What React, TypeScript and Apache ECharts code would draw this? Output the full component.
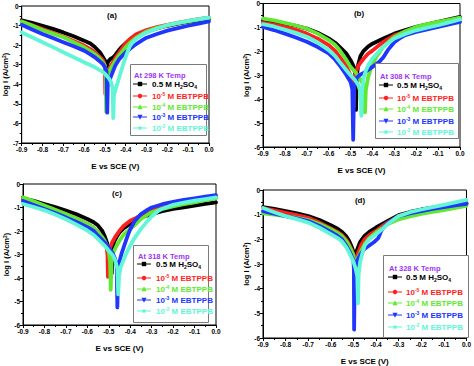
import React, { useEffect, useRef } from "react";
import * as echarts from "echarts";

type Pt = [number, number];

// ---------- tick labels / categories ----------
const PANEL_LABELS = ["(a)", "(b)", "(c)", "(d)"];
const TEMPS = ["298", "308", "318", "328"];
const Y_MINS = [-7, -6, -6, -6];
const SERIES_NAMES = ["0.5 M H2SO4", "1e-5 M EBTPPB", "1e-4 M EBTPPB", "1e-3 M EBTPPB", "1e-2 M EBTPPB"];
const EXPONENTS = ["-5", "-4", "-3", "-2"];

// ---------- panel (a) 298 K ----------
const a_blank: Pt[] = [[-0.9,-0.73],[-0.85,-0.86],[-0.8,-1.01],[-0.75,-1.17],[-0.7,-1.35],[-0.65,-1.55],[-0.6,-1.77],[-0.57,-1.92],[-0.55,-2.08],[-0.53,-2.3],[-0.52,-2.43],[-0.51,-2.6],[-0.5,-2.78],[-0.495,-2.95],[-0.492,-3.3],[-0.489,-3.0],[-0.485,-2.85],[-0.475,-2.72],[-0.46,-2.62],[-0.45,-2.5],[-0.43,-2.22],[-0.42,-2.1],[-0.4,-1.9],[-0.38,-1.72],[-0.35,-1.52],[-0.3,-1.3],[-0.25,-1.14],[-0.2,-1.01],[-0.15,-0.9],[-0.1,-0.81],[-0.05,-0.74],[0,-0.67]];
const a_1e5: Pt[] = [[-0.9,-0.79],[-0.85,-0.98],[-0.8,-1.18],[-0.75,-1.37],[-0.7,-1.57],[-0.65,-1.79],[-0.6,-2.02],[-0.57,-2.2],[-0.55,-2.36],[-0.53,-2.55],[-0.52,-2.65],[-0.51,-2.76],[-0.503,-2.95],[-0.5,-3.2],[-0.498,-4.5],[-0.495,-3.4],[-0.49,-3.4],[-0.475,-3.12],[-0.46,-2.85],[-0.45,-2.65],[-0.43,-2.36],[-0.4,-1.9],[-0.38,-1.69],[-0.35,-1.45],[-0.3,-1.23],[-0.25,-1.08],[-0.2,-0.96],[-0.15,-0.86],[-0.1,-0.76],[-0.05,-0.67],[0,-0.59]];
const a_1e4: Pt[] = [[-0.9,-0.79],[-0.85,-1.0],[-0.8,-1.23],[-0.75,-1.41],[-0.7,-1.6],[-0.65,-1.85],[-0.6,-2.11],[-0.57,-2.3],[-0.55,-2.45],[-0.53,-2.63],[-0.52,-2.75],[-0.51,-2.88],[-0.5,-3.04],[-0.496,-3.4],[-0.494,-5.4],[-0.491,-3.7],[-0.485,-3.45],[-0.47,-3.15],[-0.45,-2.8],[-0.43,-2.5],[-0.4,-2.1],[-0.38,-1.88],[-0.35,-1.62],[-0.3,-1.3],[-0.25,-1.12],[-0.2,-0.99],[-0.15,-0.88],[-0.1,-0.78],[-0.05,-0.69],[0,-0.61]];
const a_1e3: Pt[] = [[-0.9,-0.96],[-0.85,-1.2],[-0.8,-1.43],[-0.75,-1.64],[-0.7,-1.85],[-0.65,-2.06],[-0.6,-2.28],[-0.57,-2.47],[-0.55,-2.61],[-0.53,-2.78],[-0.51,-2.97],[-0.5,-3.12],[-0.492,-3.35],[-0.489,-5.45],[-0.486,-3.9],[-0.475,-3.71],[-0.46,-3.3],[-0.45,-3.04],[-0.43,-2.7],[-0.4,-2.36],[-0.36,-2.02],[-0.32,-1.74],[-0.3,-1.62],[-0.25,-1.43],[-0.2,-1.26],[-0.15,-1.13],[-0.1,-1.01],[-0.05,-0.9],[0,-0.79]];
const a_1e2: Pt[] = [[-0.9,-1.35],[-0.85,-1.6],[-0.8,-1.85],[-0.75,-2.1],[-0.7,-2.36],[-0.65,-2.62],[-0.6,-2.87],[-0.55,-3.12],[-0.52,-3.3],[-0.5,-3.46],[-0.48,-3.71],[-0.47,-3.9],[-0.463,-4.2],[-0.46,-5.73],[-0.457,-4.6],[-0.45,-4.3],[-0.44,-3.95],[-0.43,-3.6],[-0.42,-3.25],[-0.41,-2.9],[-0.4,-2.6],[-0.39,-2.3],[-0.38,-2.05],[-0.37,-1.9],[-0.35,-1.68],[-0.32,-1.47],[-0.3,-1.36],[-0.25,-1.15],[-0.2,-0.98],[-0.15,-0.86],[-0.1,-0.76],[-0.05,-0.67],[0,-0.59]];

// ---------- panel (b) 308 K ----------
const b_blank: Pt[] = [[-0.9,-0.7],[-0.85,-0.76],[-0.8,-0.84],[-0.75,-0.93],[-0.7,-1.05],[-0.65,-1.22],[-0.6,-1.46],[-0.57,-1.64],[-0.55,-1.81],[-0.52,-2.08],[-0.5,-2.37],[-0.485,-2.65],[-0.478,-3.0],[-0.475,-4.45],[-0.472,-3.1],[-0.465,-2.55],[-0.455,-2.2],[-0.44,-1.98],[-0.42,-1.8],[-0.4,-1.68],[-0.35,-1.46],[-0.3,-1.26],[-0.25,-1.11],[-0.2,-0.98],[-0.15,-0.87],[-0.1,-0.77],[-0.05,-0.66],[0,-0.56]];
const b_1e5: Pt[] = [[-0.9,-0.81],[-0.85,-0.88],[-0.8,-0.98],[-0.75,-1.1],[-0.7,-1.26],[-0.65,-1.47],[-0.6,-1.74],[-0.57,-1.98],[-0.55,-2.23],[-0.52,-2.6],[-0.5,-3.0],[-0.49,-3.3],[-0.486,-4.3],[-0.482,-3.2],[-0.475,-2.85],[-0.465,-2.62],[-0.455,-2.48],[-0.44,-2.3],[-0.42,-2.1],[-0.4,-1.97],[-0.35,-1.6],[-0.3,-1.33],[-0.25,-1.17],[-0.2,-1.05],[-0.15,-0.94],[-0.1,-0.84],[-0.05,-0.73],[0,-0.63]];
const b_1e4: Pt[] = [[-0.9,-0.63],[-0.85,-0.71],[-0.8,-0.81],[-0.75,-0.92],[-0.7,-1.05],[-0.65,-1.26],[-0.6,-1.53],[-0.57,-1.74],[-0.55,-1.95],[-0.52,-2.35],[-0.5,-2.65],[-0.48,-2.85],[-0.46,-3.1],[-0.445,-3.35],[-0.437,-3.7],[-0.434,-4.55],[-0.43,-3.6],[-0.42,-3.1],[-0.41,-2.8],[-0.4,-2.55],[-0.38,-2.2],[-0.35,-1.81],[-0.32,-1.55],[-0.3,-1.4],[-0.25,-1.16],[-0.2,-0.98],[-0.15,-0.86],[-0.1,-0.77],[-0.05,-0.68],[0,-0.59]];
const b_1e3: Pt[] = [[-0.9,-0.98],[-0.85,-1.11],[-0.8,-1.26],[-0.75,-1.42],[-0.7,-1.6],[-0.65,-1.82],[-0.6,-2.09],[-0.57,-2.35],[-0.55,-2.58],[-0.52,-2.98],[-0.5,-3.28],[-0.492,-3.6],[-0.488,-5.7],[-0.484,-3.5],[-0.475,-3.15],[-0.46,-3.0],[-0.44,-2.9],[-0.42,-2.78],[-0.4,-2.65],[-0.37,-2.45],[-0.35,-2.25],[-0.33,-1.95],[-0.3,-1.62],[-0.27,-1.42],[-0.25,-1.32],[-0.2,-1.19],[-0.15,-1.08],[-0.1,-0.98],[-0.05,-0.87],[0,-0.77]];
const b_1e2: Pt[] = [[-0.9,-0.86],[-0.85,-0.96],[-0.8,-1.09],[-0.75,-1.23],[-0.7,-1.39],[-0.65,-1.63],[-0.6,-1.95],[-0.57,-2.2],[-0.55,-2.44],[-0.52,-2.78],[-0.5,-3.0],[-0.48,-3.2],[-0.465,-3.4],[-0.455,-3.7],[-0.451,-4.7],[-0.447,-3.6],[-0.44,-3.1],[-0.43,-2.8],[-0.42,-2.6],[-0.4,-2.3],[-0.37,-2.0],[-0.35,-1.81],[-0.3,-1.46],[-0.25,-1.27],[-0.2,-1.12],[-0.15,-1.01],[-0.1,-0.91],[-0.05,-0.79],[0,-0.67]];

// ---------- panel (c) 318 K ----------
const c_blank: Pt[] = [[-0.9,-0.61],[-0.85,-0.72],[-0.8,-0.85],[-0.75,-0.98],[-0.7,-1.13],[-0.65,-1.29],[-0.6,-1.49],[-0.57,-1.63],[-0.55,-1.77],[-0.53,-2.0],[-0.52,-2.2],[-0.51,-2.45],[-0.5,-2.77],[-0.49,-3.1],[-0.486,-3.8],[-0.482,-2.9],[-0.475,-2.45],[-0.46,-2.2],[-0.45,-2.06],[-0.43,-1.88],[-0.4,-1.7],[-0.37,-1.52],[-0.35,-1.42],[-0.3,-1.28],[-0.25,-1.16],[-0.2,-1.06],[-0.15,-0.99],[-0.1,-0.92],[-0.05,-0.85],[0,-0.78]];
const c_1e5: Pt[] = [[-0.9,-0.65],[-0.85,-0.8],[-0.8,-0.95],[-0.75,-1.11],[-0.7,-1.28],[-0.65,-1.48],[-0.6,-1.7],[-0.57,-1.87],[-0.55,-2.06],[-0.53,-2.3],[-0.52,-2.48],[-0.51,-2.7],[-0.506,-3.0],[-0.504,-3.95],[-0.5,-3.0],[-0.495,-2.75],[-0.485,-2.5],[-0.47,-2.25],[-0.45,-1.99],[-0.43,-1.78],[-0.4,-1.56],[-0.37,-1.43],[-0.35,-1.35],[-0.3,-1.13],[-0.25,-1.01],[-0.2,-0.92],[-0.15,-0.83],[-0.1,-0.75],[-0.05,-0.66],[0,-0.57]];
const c_1e4: Pt[] = [[-0.9,-0.57],[-0.85,-0.74],[-0.8,-0.92],[-0.75,-1.1],[-0.7,-1.28],[-0.65,-1.48],[-0.6,-1.7],[-0.57,-1.87],[-0.55,-2.06],[-0.53,-2.27],[-0.52,-2.41],[-0.51,-2.6],[-0.5,-2.9],[-0.494,-3.3],[-0.491,-4.5],[-0.487,-3.3],[-0.48,-2.95],[-0.465,-2.65],[-0.45,-2.41],[-0.43,-2.15],[-0.4,-1.91],[-0.37,-1.67],[-0.35,-1.49],[-0.3,-1.2],[-0.25,-1.06],[-0.2,-0.95],[-0.15,-0.86],[-0.1,-0.78],[-0.05,-0.69],[0,-0.61]];
const c_1e3: Pt[] = [[-0.9,-0.72],[-0.85,-0.89],[-0.8,-1.06],[-0.75,-1.24],[-0.7,-1.42],[-0.65,-1.62],[-0.6,-1.84],[-0.57,-2.0],[-0.55,-2.2],[-0.52,-2.48],[-0.5,-2.7],[-0.48,-2.98],[-0.47,-3.2],[-0.463,-3.5],[-0.46,-5.25],[-0.457,-3.8],[-0.45,-3.3],[-0.44,-2.95],[-0.43,-2.68],[-0.42,-2.41],[-0.41,-2.15],[-0.4,-1.93],[-0.38,-1.58],[-0.35,-1.28],[-0.32,-1.1],[-0.3,-1.0],[-0.25,-0.86],[-0.2,-0.76],[-0.15,-0.68],[-0.1,-0.61],[-0.05,-0.54],[0,-0.47]];
const c_1e2: Pt[] = [[-0.9,-0.85],[-0.85,-0.98],[-0.8,-1.12],[-0.75,-1.3],[-0.7,-1.5],[-0.65,-1.73],[-0.6,-1.98],[-0.57,-2.17],[-0.55,-2.35],[-0.52,-2.62],[-0.5,-2.84],[-0.48,-3.05],[-0.47,-3.25],[-0.46,-3.6],[-0.456,-4.7],[-0.452,-3.9],[-0.445,-3.55],[-0.43,-3.2],[-0.42,-2.98],[-0.4,-2.62],[-0.38,-2.3],[-0.35,-1.91],[-0.32,-1.58],[-0.3,-1.38],[-0.27,-1.15],[-0.25,-1.05],[-0.2,-0.89],[-0.15,-0.79],[-0.1,-0.71],[-0.05,-0.64],[0,-0.57]];

// ---------- panel (d) 328 K ----------
const d_blank: Pt[] = [[-0.9,-0.69],[-0.85,-0.77],[-0.8,-0.86],[-0.75,-0.95],[-0.7,-1.06],[-0.65,-1.22],[-0.6,-1.43],[-0.57,-1.57],[-0.55,-1.7],[-0.53,-1.9],[-0.52,-2.05],[-0.51,-2.25],[-0.5,-2.5],[-0.496,-2.9],[-0.494,-4.53],[-0.491,-2.9],[-0.485,-2.45],[-0.47,-2.1],[-0.45,-1.85],[-0.43,-1.7],[-0.4,-1.52],[-0.37,-1.36],[-0.35,-1.26],[-0.3,-1.02],[-0.25,-0.89],[-0.2,-0.79],[-0.15,-0.71],[-0.1,-0.64],[-0.05,-0.58],[0,-0.53]];
const d_1e5: Pt[] = [[-0.9,-0.73],[-0.85,-0.83],[-0.8,-0.93],[-0.75,-1.02],[-0.7,-1.13],[-0.65,-1.32],[-0.6,-1.56],[-0.57,-1.7],[-0.55,-1.83],[-0.53,-2.04],[-0.52,-2.19],[-0.51,-2.38],[-0.5,-2.6],[-0.494,-2.95],[-0.49,-3.97],[-0.487,-3.0],[-0.48,-2.55],[-0.465,-2.22],[-0.45,-1.99],[-0.43,-1.83],[-0.4,-1.66],[-0.37,-1.45],[-0.35,-1.32],[-0.3,-1.06],[-0.25,-0.95],[-0.2,-0.86],[-0.15,-0.77],[-0.1,-0.69],[-0.05,-0.62],[0,-0.56]];
const d_1e4: Pt[] = [[-0.9,-0.95],[-0.85,-1.0],[-0.8,-1.06],[-0.75,-1.13],[-0.7,-1.22],[-0.65,-1.38],[-0.6,-1.59],[-0.57,-1.75],[-0.55,-1.88],[-0.53,-2.1],[-0.52,-2.25],[-0.51,-2.43],[-0.5,-2.65],[-0.495,-3.0],[-0.492,-3.8],[-0.488,-3.1],[-0.48,-2.75],[-0.465,-2.45],[-0.45,-2.19],[-0.43,-1.95],[-0.4,-1.72],[-0.37,-1.53],[-0.35,-1.39],[-0.3,-1.19],[-0.25,-1.07],[-0.2,-0.97],[-0.15,-0.89],[-0.1,-0.82],[-0.05,-0.73],[0,-0.64]];
const d_1e3: Pt[] = [[-0.9,-0.86],[-0.85,-0.96],[-0.8,-1.06],[-0.75,-1.15],[-0.7,-1.26],[-0.65,-1.46],[-0.6,-1.7],[-0.57,-1.86],[-0.55,-2.01],[-0.53,-2.27],[-0.52,-2.45],[-0.51,-2.63],[-0.5,-2.85],[-0.498,-3.2],[-0.497,-5.66],[-0.494,-3.3],[-0.485,-2.9],[-0.47,-2.62],[-0.45,-2.38],[-0.43,-2.25],[-0.41,-2.12],[-0.39,-1.95],[-0.38,-1.72],[-0.37,-1.55],[-0.35,-1.35],[-0.3,-1.06],[-0.25,-0.95],[-0.2,-0.86],[-0.15,-0.77],[-0.1,-0.69],[-0.05,-0.62],[0,-0.56]];
const d_1e2: Pt[] = [[-0.9,-0.73],[-0.85,-0.9],[-0.8,-1.06],[-0.75,-1.18],[-0.7,-1.32],[-0.65,-1.53],[-0.6,-1.79],[-0.57,-1.95],[-0.55,-2.09],[-0.53,-2.35],[-0.52,-2.52],[-0.5,-2.9],[-0.49,-3.2],[-0.483,-3.5],[-0.48,-4.6],[-0.477,-3.4],[-0.47,-2.9],[-0.46,-2.55],[-0.45,-2.25],[-0.43,-2.0],[-0.4,-1.79],[-0.37,-1.57],[-0.35,-1.39],[-0.3,-1.06],[-0.25,-0.9],[-0.2,-0.79],[-0.15,-0.69],[-0.1,-0.6],[-0.05,-0.5],[0,-0.4]];

const CURVES: Pt[][][] = [
  [a_blank, a_1e5, a_1e4, a_1e3, a_1e2],
  [b_blank, b_1e5, b_1e4, b_1e3, b_1e2],
  [c_blank, c_1e5, c_1e4, c_1e3, c_1e2],
  [d_blank, d_1e5, d_1e4, d_1e3, d_1e2],
];

// ---------- layout & style ----------
const COLORS = ["#000000", "#ff1f1f", "#62e832", "#2036ff", "#62f5d8"];
const TITLE_COLOR = "#9b35f0";
const GRIDS = [
  { left: 21, top: 6, width: 188, height: 137, yNameGap: 9 },
  { left: 263, top: 3, width: 197, height: 144, yNameGap: 13 },
  { left: 23, top: 184, width: 193, height: 141, yNameGap: 11 },
  { left: 263, top: 190, width: 206, height: 151, yNameGap: 13 },
];
const PANEL_LABEL_POS = [[112, 15], [359, 13], [117, 193], [360, 200]];
const LEGENDS = [
  { box: [130, 64, 76, 71], titleX: 134, titleY: 75, lineX: 133, textX: 152, rows: [84, 96, 107, 117, 128] },
  { box: [375, 63, 83, 75], titleX: 380, titleY: 76, lineX: 379, textX: 397, rows: [85, 98, 109, 121, 132] },
  { box: [133, 245, 75, 77], titleX: 138, titleY: 256, lineX: 137, textX: 156, rows: [264, 278, 289, 300, 311] },
  { box: [383, 255, 85, 82], titleX: 389, titleY: 268, lineX: 388, textX: 406, rows: [277, 292, 303, 315, 327] },
];

const FONT = "Liberation Sans, Arial, sans-serif";

function marker(kind: number, cx: number, cy: number, color: string): any {
  const s = 2.2;
  if (kind === 0) return { type: "rect", shape: { x: cx - s, y: cy - s, width: 2 * s, height: 2 * s }, style: { fill: color }, z: 102 };
  if (kind === 1) return { type: "circle", shape: { cx, cy, r: s }, style: { fill: color }, z: 102 };
  if (kind === 2) return { type: "polygon", shape: { points: [[cx, cy - s - 0.5], [cx + s + 0.3, cy + s], [cx - s - 0.3, cy + s]] }, style: { fill: color }, z: 102 };
  if (kind === 3) return { type: "polygon", shape: { points: [[cx, cy + s + 0.5], [cx + s + 0.3, cy - s], [cx - s - 0.3, cy - s]] }, style: { fill: color }, z: 102 };
  const pts: number[][] = [];
  for (let k = 0; k < 10; k++) {
    const r = k % 2 === 0 ? 2.8 : 1.2;
    const a = -Math.PI / 2 + (k * Math.PI) / 5;
    pts.push([cx + r * Math.cos(a), cy + r * Math.sin(a)]);
  }
  return { type: "polygon", shape: { points: pts }, style: { fill: color }, z: 102 };
}

function buildGraphics(): any[] {
  const els: any[] = [];
  PANEL_LABELS.forEach((lab, i) => {
    const [x, y] = PANEL_LABEL_POS[i];
    els.push({ type: "text", x, y, z: 100, style: { text: lab, font: `bold 8px ${FONT}`, fill: "#000", align: "center", verticalAlign: "middle" } });
    const L = LEGENDS[i];
    const [bx, by, bw, bh] = L.box;
    els.push({ type: "rect", z: 100, shape: { x: bx + 0.5, y: by + 0.5, width: bw, height: bh }, style: { fill: "#ffffff", stroke: "#7a7a7a", lineWidth: 1 } });
    els.push({ type: "text", x: L.titleX, y: L.titleY, z: 103, style: { text: `At ${TEMPS[i]} K Temp`, font: `bold 7.5px ${FONT}`, fill: TITLE_COLOR, verticalAlign: "middle" } });
    L.rows.forEach((ry, j) => {
      const col = COLORS[j];
      els.push({ type: "line", z: 101, shape: { x1: L.lineX, y1: ry, x2: L.lineX + 14, y2: ry }, style: { stroke: col, lineWidth: 1 } });
      els.push(marker(j, L.lineX + 7, ry, col));
      const text = j === 0 ? "0.5 M H{sub|2}SO{sub|4}" : `10{sup|${EXPONENTS[j - 1]}} M EBTPPB`;
      els.push({
        type: "text", x: L.textX, y: ry, z: 103,
        style: {
          text, font: `bold 8px ${FONT}`, fill: col, verticalAlign: "middle", lineHeight: 10,
          rich: {
            sup: { fontSize: 5, fontWeight: "bold", fontFamily: FONT, fill: col, verticalAlign: "top", lineHeight: 10, padding: [0, 0, 4, 0] },
            sub: { fontSize: 5, fontWeight: "bold", fontFamily: FONT, fill: col, verticalAlign: "bottom", lineHeight: 10, padding: [4, 0, 0, 0] },
          },
        },
      });
    });
  });
  return els;
}

function buildOption(): any {
  const grid = GRIDS.map((g) => ({ left: g.left, top: g.top, width: g.width, height: g.height, show: true, borderColor: "#000", borderWidth: 1, backgroundColor: "transparent", containLabel: false }));
  const xAxis = GRIDS.map((_, i) => ({
    type: "value", gridIndex: i, min: -0.9, max: 0, interval: 0.1,
    name: "E vs SCE (V)", nameLocation: "middle", nameGap: 19,
    nameTextStyle: { fontFamily: FONT, fontWeight: "bold", fontSize: 8, color: "#000" },
    axisLine: { show: true, onZero: false, lineStyle: { color: "#000", width: 1 } },
    axisTick: { show: true, inside: false, length: 3, lineStyle: { color: "#000" } },
    minorTick: { show: true, splitNumber: 2, length: 2, lineStyle: { color: "#000" } },
    splitLine: { show: false }, minorSplitLine: { show: false },
    axisLabel: {
      fontFamily: FONT, fontWeight: "bold", fontSize: 6.5, color: "#000", margin: 3, showMinLabel: true, showMaxLabel: true,
      formatter: (v: number) => (Math.abs(v) < 1e-9 ? 0 : v).toFixed(1),
    },
  }));
  const yAxis = GRIDS.map((g, i) => ({
    type: "value", gridIndex: i, min: Y_MINS[i], max: 0, interval: 1,
    name: "log I (A/cm{sup|2})", nameLocation: "middle", nameGap: g.yNameGap, nameRotate: 90,
    nameTextStyle: {
      fontFamily: FONT, fontWeight: "bold", fontSize: 7.5, color: "#000",
      rich: { sup: { fontSize: 5, fontWeight: "bold", fontFamily: FONT, color: "#000", verticalAlign: "top", padding: [0, 0, 3, 0] } },
    },
    axisLine: { show: true, onZero: false, lineStyle: { color: "#000", width: 1 } },
    axisTick: { show: true, inside: false, length: 3, lineStyle: { color: "#000" } },
    minorTick: { show: true, splitNumber: 2, length: 2, lineStyle: { color: "#000" } },
    splitLine: { show: false }, minorSplitLine: { show: false },
    axisLabel: {
      fontFamily: FONT, fontWeight: "bold", fontSize: 6.5, color: "#000", margin: 3, showMinLabel: true, showMaxLabel: true,
      formatter: (v: number) => String(Math.round(v)),
    },
  }));
  const series: any[] = [];
  CURVES.forEach((panel, i) => {
    panel.forEach((data, j) => {
      series.push({
        type: "line", name: `${SERIES_NAMES[j]} (${TEMPS[i]} K)`, xAxisIndex: i, yAxisIndex: i, data,
        showSymbol: false, symbol: "none", silent: true, clip: true, z: 2 + j,
        lineStyle: { color: COLORS[j], width: 3.8, join: "round", cap: "round" },
        itemStyle: { color: COLORS[j] },
      });
    });
  });
  return { animation: false, backgroundColor: "#ffffff", grid, xAxis, yAxis, series, graphic: buildGraphics() };
}

export default function App() {
  const ref = useRef<HTMLDivElement>(null);
  useEffect(() => {
    if (!ref.current) return;
    const chart = echarts.init(ref.current, null, { renderer: "svg" });
    chart.setOption(buildOption());
    return () => chart.dispose();
  }, []);
  return <div ref={ref} style={{ position: "absolute", left: 0, top: 0, width: 474, height: 366 }} />;
}
